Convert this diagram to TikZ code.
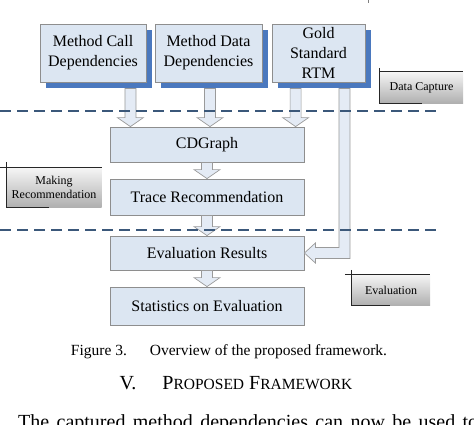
\documentclass[tikz,border=0pt]{standalone}
\usepackage{fontspec}
\setmainfont{Liberation Serif}
\usetikzlibrary{calc,shadows}
\definecolor{boxfill}{HTML}{DCE6F2}
\definecolor{boxline}{HTML}{8E8E8E}
\definecolor{shadowblue}{HTML}{4A78BE}
\definecolor{dashblue}{HTML}{3B587A}
\definecolor{arrowfill}{HTML}{E4EBF5}
\definecolor{arrowline}{HTML}{9A9A9A}
\newcommand\blk[2]{\draw[barrow] let \p1=(#1), \p2=(#2) in
  (\x1-5.5pt,\y1) -- (\x1+5.5pt,\y1) -- (\x1+5.5pt,\y2+9pt) -- (\x1+13pt,\y2+9pt)
  -- (\x1,\y2) -- (\x1-13pt,\y2+9pt) -- (\x1-5.5pt,\y2+9pt) -- cycle;}
\begin{document}
\begin{tikzpicture}[x=1pt,y=-1pt,
  topbox/.style={draw=boxline, fill=boxfill, line width=0.8pt, align=center,
    font=\fontsize{16}{20}\selectfont, inner sep=0pt,
    drop shadow={shadow xshift=6pt, shadow yshift=-6pt, fill=shadowblue, opacity=1}},
  flowbox/.style={draw=boxline, fill=boxfill, line width=0.8pt, minimum width=194pt,
    inner sep=0pt, font=\fontsize{16}{20}\selectfont},
  barrow/.style={draw=arrowline, fill=arrowfill, line width=0.7pt, line join=miter},
  lbl/.style={top color=gray!8, bottom color=gray!62, align=center, inner sep=0pt,
    font=\fontsize{12}{14}\selectfont},
  lblline/.style={draw=black!85, line width=0.9pt},
  dashline/.style={draw=dashblue, line width=1.8pt, dash pattern=on 11pt off 6pt}]
\useasboundingbox (0,0) rectangle (474,424);
\begin{scope}
\clip (0,0) rectangle (474,424);
% top boxes
\node[topbox, minimum width=106pt, minimum height=58pt] (mc) at (93,53) {Method Call\\Dependencies};
\node[topbox, minimum width=107pt, minimum height=58pt] (md) at (208.5,53) {Method Data\\Dependencies};
\node[topbox, minimum width=93pt, minimum height=58pt] (gs) at (318.5,53) {Gold\\Standard\\RTM};
% flow boxes
\node[flowbox, minimum height=35pt] (cd) at (207,144.5) {CDGraph};
\node[flowbox, minimum height=36pt] (tr) at (207,197) {Trace Recommendation};
\node[flowbox, minimum height=34pt] (er) at (207,253) {Evaluation Results};
\node[flowbox, minimum height=38pt] (se) at (207,306) {Statistics on Evaluation};
% block arrows
\blk{[xshift=-16pt,yshift=-6pt]mc.south east}{cd.north}
\blk{[xshift=1.5pt,yshift=-6pt]md.south}{cd.north}
\blk{[xshift=24pt,yshift=-6pt]gs.south west}{cd.north}
\blk{cd.south}{tr.north}
\blk{tr.south}{er.north}
\blk{er.south}{se.north}
\draw[barrow] let \p1=([xshift=-21pt,yshift=-6pt]gs.south east), \p2=(er.east) in
  (\x1-5.5pt,\y1) -- (\x1+5.5pt,\y1) -- (\x1+5.5pt,\y2-5.5pt) -- (\x2+11pt,\y2-5.5pt)
  -- (\x2+11pt,\y2-10pt) -- (\x2,\y2) -- (\x2+11pt,\y2+10pt) -- (\x2+11pt,\y2+5.5pt)
  -- (\x1-5.5pt,\y2+5.5pt) -- cycle;
% dashed separators
\draw[dashline] (0,111) -- (442,111);
\draw[dashline] (0,230) -- (442,230);
% phase labels
\node[lbl, minimum width=83pt, minimum height=31pt] (dc) at (421.5,87.5) {Data Capture};
\draw[lblline] ([yshift=4pt]dc.north west) -- (dc.south west) -- ++(42,0);
\draw[lblline] (dc.north west) -- (dc.north east);
\node[lbl, minimum width=95pt, minimum height=39pt] (mr) at (54,187.5) {Making\\Recommendation};
\draw[lblline] ([yshift=6pt]mr.north west) -- (mr.south west) -- ++(43,0);
\draw[lblline] ([xshift=-7pt]mr.north west) -- (mr.north east);
\node[lbl, minimum width=78pt, minimum height=30pt] (ev) at (391,290) {Evaluation};
\draw[lblline] ([yshift=5pt]ev.north west) -- (ev.south west) -- ++(38,0);
\draw[lblline] ([xshift=-7pt]ev.north west) -- (ev.north east);
% tiny mark top right
\draw[gray, line width=0.6pt] (368,0) -- (368,3);
% caption and text
\node (cap) at (229,352) {\fontsize{15.5}{18}\selectfont Figure 3.\hspace{23pt}Overview of the proposed framework.};
\node (hd) at (236,383) {\fontsize{20}{24}\selectfont V.\hspace{26pt}P{\fontsize{15.5}{18}\selectfont ROPOSED} F{\fontsize{15.5}{18}\selectfont RAMEWORK}};
\node[anchor=base west, inner sep=0pt] (bt) at (18,428) {\fontsize{20}{24}\selectfont\makebox[460pt][s]{The captured method dependencies can now be used to}};
\end{scope}
\end{tikzpicture}
\end{document}
